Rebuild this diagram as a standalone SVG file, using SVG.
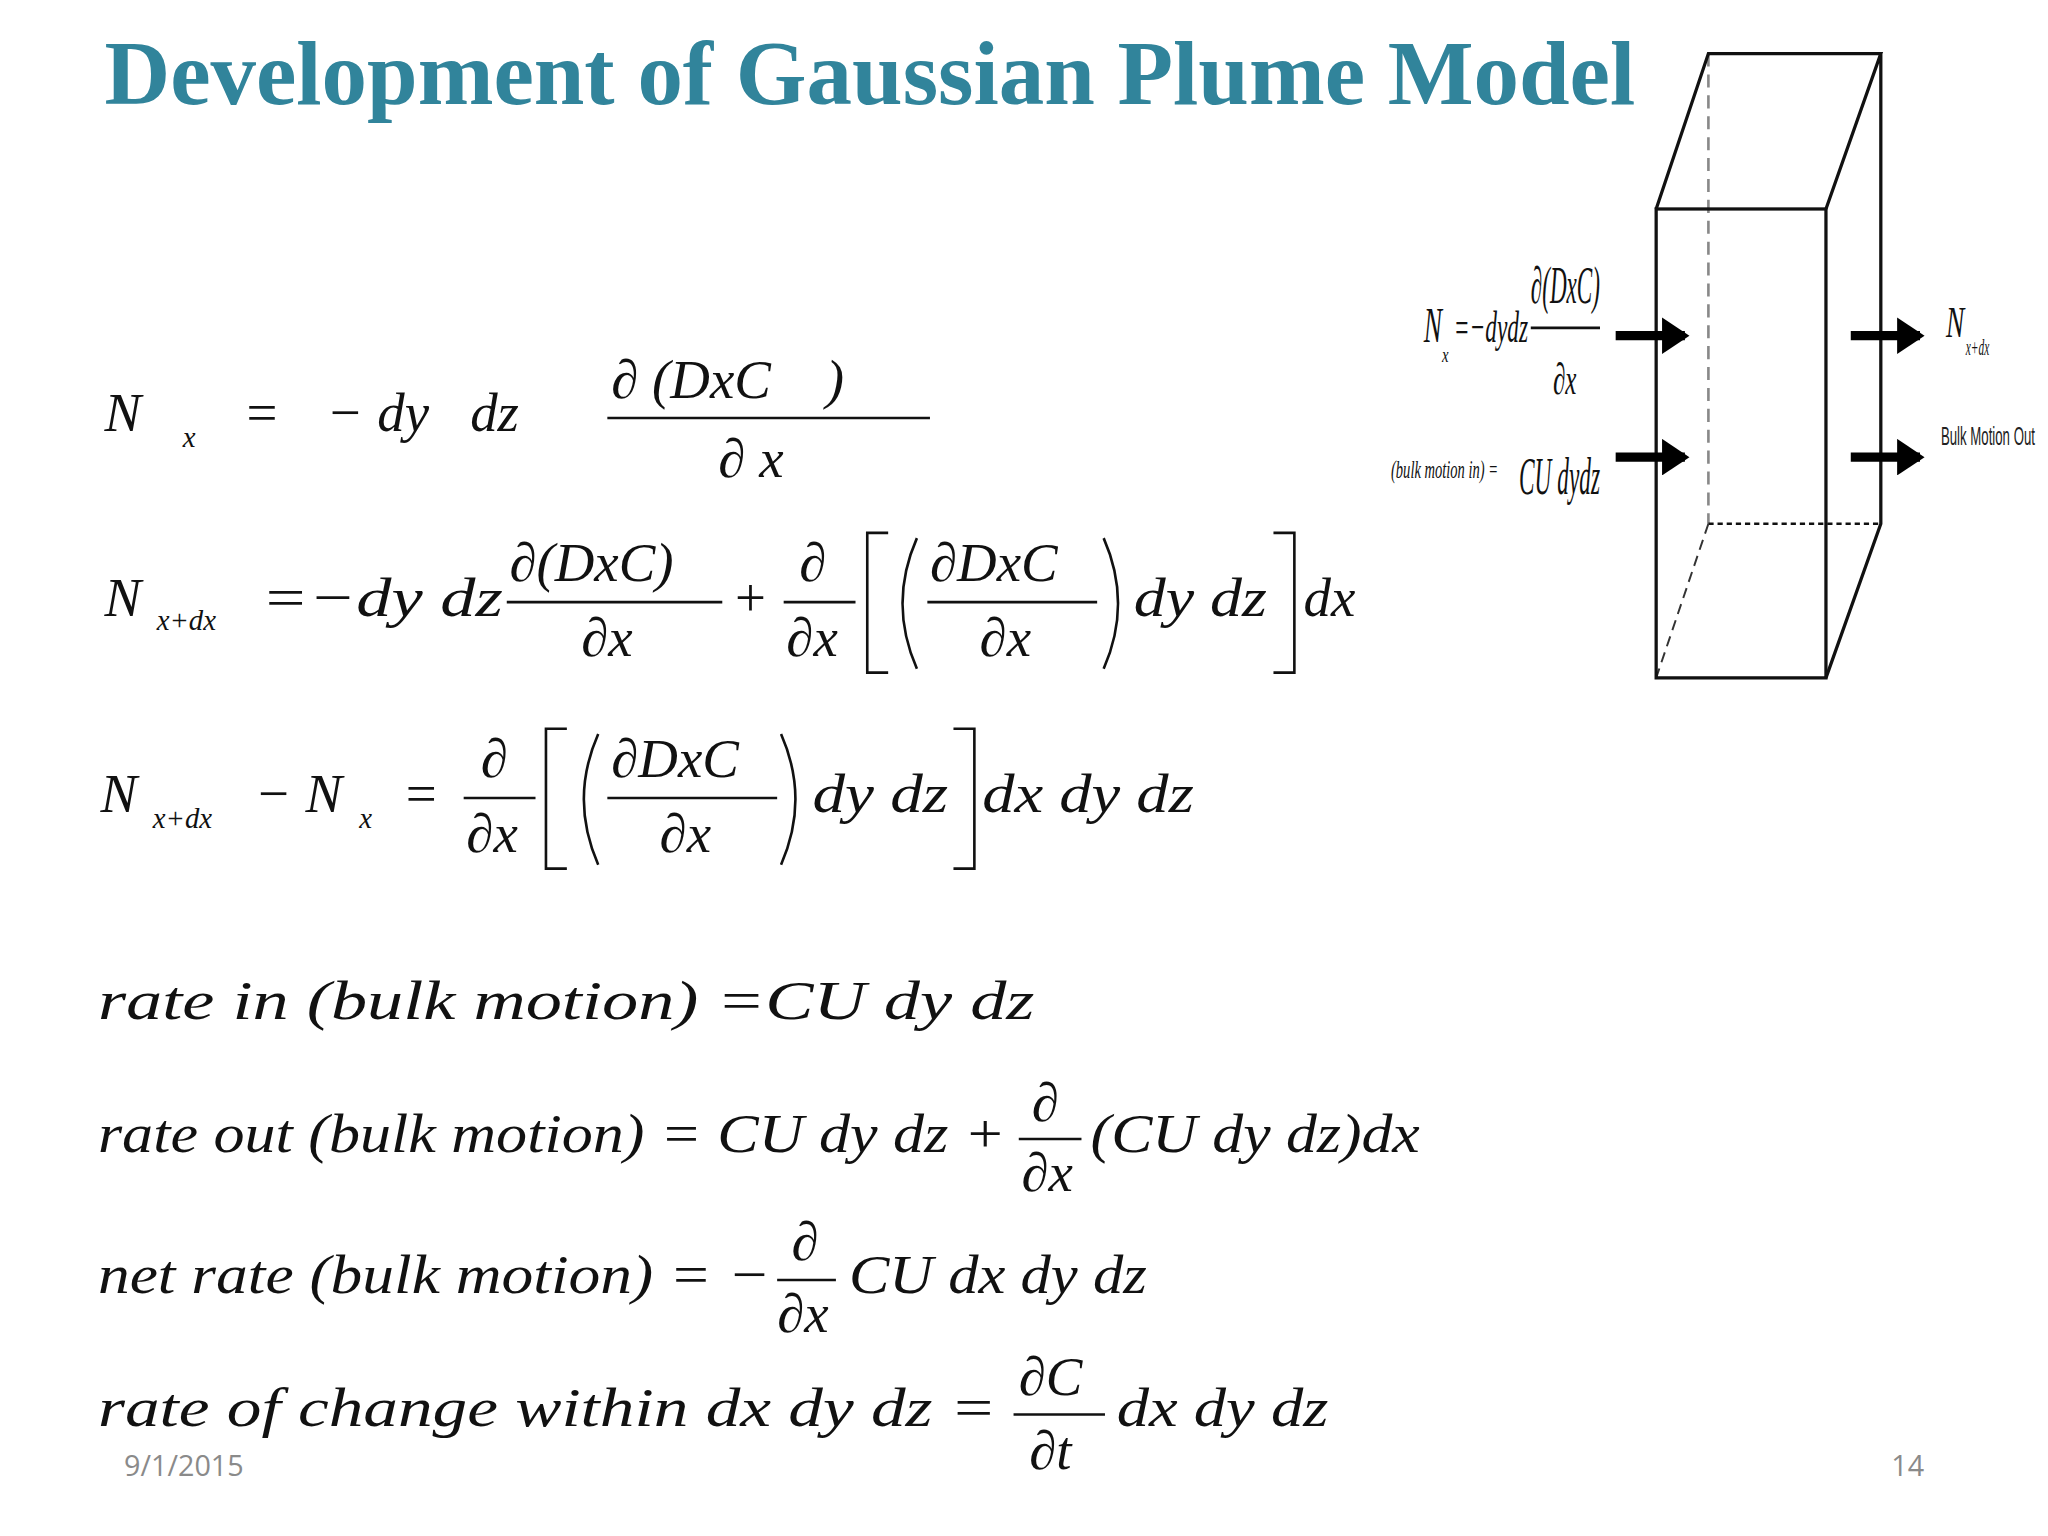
<svg xmlns="http://www.w3.org/2000/svg" width="2048" height="1536" viewBox="0 0 2048 1536">
<style>
.m{font-family:"Liberation Serif","DejaVu Serif",serif;font-style:italic;fill:#111}
.e{font-size:42px}.s{font-size:22px}.r{font-size:42px}
.fl{stroke:#111;stroke-width:2;fill:none}
.bx{stroke:#111;stroke-width:2.5;fill:none}
.ft{font-family:"Open Sans","Liberation Sans",sans-serif;font-size:22px;fill:#8a8a8a}
</style>
<defs><marker id="ah" markerWidth="4" markerHeight="4" refX="2.5" refY="2" orient="auto"><path d="M0,0 L3,2 L0,4 z" fill="#000"/></marker></defs>
<rect width="2048" height="1536" fill="#fff"/>
<g transform="scale(1.30612)">
<text x="80" y="80" font-family="Liberation Serif,serif" font-weight="bold" font-size="70" fill="#31849B" textLength="1172" lengthAdjust="spacingAndGlyphs">Development of Gaussian Plume Model</text>

<g id="eq1">
<text class="m e" x="80" y="330">N</text><text class="m s" x="140" y="342">x</text>
<text class="m e" x="186" y="330">=</text><text class="m e" x="250" y="330" xml:space="preserve">− dy   dz</text>
<text class="m e" x="468" y="305" xml:space="preserve">∂ (DxC    )</text>
<line class="fl" x1="465" y1="320" x2="712" y2="320"/>
<text class="m e" x="550" y="365">∂ x</text>
</g>

<g id="eq2">
<text class="m e" x="80" y="472">N</text><text class="m s" x="120" y="482">x+dx</text>
<text class="m e" x="200" y="472" textLength="185" lengthAdjust="spacingAndGlyphs">=−dy dz</text>
<text class="m e" x="390" y="445">∂(DxC)</text><line class="fl" x1="388" y1="461" x2="553" y2="461"/><text class="m e" x="445" y="502">∂x</text>
<text class="m e" x="560" y="472">+</text>
<text class="m e" x="612" y="445">∂</text><line class="fl" x1="600" y1="461" x2="655" y2="461"/><text class="m e" x="602" y="502">∂x</text>
<path class="fl" d="M680,408 H664 V515 H680"/>
<path class="fl" d="M702,412 Q680,462 702,512"/>
<text class="m e" x="712" y="445">∂DxC</text><line class="fl" x1="710" y1="461" x2="840" y2="461"/><text class="m e" x="750" y="502">∂x</text>
<path class="fl" d="M845,412 Q867,462 845,512"/>
<text class="m e" x="868" y="472" textLength="102" lengthAdjust="spacingAndGlyphs">dy dz</text>
<path class="fl" d="M975,408 H991 V515 H975"/>
<text class="m e" x="998" y="472">dx</text>
</g>

<g id="eq3">
<text class="m e" x="77" y="622">N</text><text class="m s" x="117" y="634">x+dx</text>
<text class="m e" x="195" y="622">− N</text><text class="m s" x="275" y="634">x</text>
<text class="m e" x="308" y="622">=</text>
<text class="m e" x="368" y="595">∂</text><line class="fl" x1="355" y1="611" x2="410" y2="611"/><text class="m e" x="357" y="652">∂x</text>
<path class="fl" d="M434,558 H418 V665 H434"/>
<path class="fl" d="M458,562 Q436,612 458,662"/>
<text class="m e" x="468" y="595">∂DxC</text><line class="fl" x1="465" y1="611" x2="595" y2="611"/><text class="m e" x="505" y="652">∂x</text>
<path class="fl" d="M598,562 Q620,612 598,662"/>
<text class="m e" x="622" y="622" textLength="104" lengthAdjust="spacingAndGlyphs">dy dz</text>
<path class="fl" d="M730,558 H746 V665 H730"/>
<text class="m e" x="752" y="622" textLength="162" lengthAdjust="spacingAndGlyphs">dx dy dz</text>
</g>

<g id="eq4"><text class="m r" x="75" y="780" textLength="717" lengthAdjust="spacingAndGlyphs">rate in (bulk motion) =CU dy dz</text></g>

<g id="eq5">
<text class="m r" x="75" y="882" textLength="695" lengthAdjust="spacingAndGlyphs">rate out (bulk motion) = CU dy dz +</text>
<text class="m e" x="790" y="858">∂</text><line class="fl" x1="780" y1="872" x2="828" y2="872"/><text class="m e" x="782" y="912">∂x</text>
<text class="m r" x="835" y="882" textLength="252" lengthAdjust="spacingAndGlyphs">(CU dy dz)dx</text>
</g>

<g id="eq6">
<text class="m r" x="75" y="990" textLength="515" lengthAdjust="spacingAndGlyphs">net rate (bulk motion) = −</text>
<text class="m e" x="606" y="965">∂</text><line class="fl" x1="595" y1="980" x2="640" y2="980"/><text class="m e" x="595" y="1020">∂x</text>
<text class="m r" x="650" y="990" textLength="228" lengthAdjust="spacingAndGlyphs">CU dx dy dz</text>
</g>

<g id="eq7">
<text class="m r" x="75" y="1092" textLength="688" lengthAdjust="spacingAndGlyphs">rate of change within dx dy dz =</text>
<text class="m e" x="780" y="1068">∂C</text><line class="fl" x1="776" y1="1083" x2="846" y2="1083"/><text class="m e" x="788" y="1125">∂t</text>
<text class="m r" x="855" y="1092" textLength="162" lengthAdjust="spacingAndGlyphs">dx dy dz</text>
</g>

<text class="ft" x="95" y="1130">9/1/2015</text>
<text class="ft" x="1448" y="1130">14</text>

<g id="box">
<line x1="1308" y1="41" x2="1308" y2="401" stroke="#888" stroke-width="2" stroke-dasharray="10,6"/>
<line x1="1308" y1="401" x2="1440" y2="401" stroke="#111" stroke-width="2" stroke-dasharray="4,3"/>
<line x1="1308" y1="401" x2="1268" y2="519" stroke="#333" stroke-width="1.5" stroke-dasharray="8,5"/>
<path class="bx" d="M1268,160 L1308,41 H1440 L1398,160 M1440,41 V401 L1398,519"/>
<rect class="bx" x="1268" y="160" width="130" height="359"/>
</g>
<g id="connectors" stroke="#000" stroke-width="7" marker-end="url(#ah)">
<line x1="1237" y1="257" x2="1290" y2="257"/>
<line x1="1237" y1="350" x2="1290" y2="350"/>
<line x1="1417" y1="257" x2="1470" y2="257"/>
<line x1="1417" y1="350" x2="1470" y2="350"/>
</g>
<g id="labels">
<text class="m" font-size="38" x="1090" y="262" textLength="14" lengthAdjust="spacingAndGlyphs">N</text><text class="m" font-size="16" x="1104" y="277" textLength="5" lengthAdjust="spacingAndGlyphs">x</text>
<text class="m" font-size="34" x="1113" y="262" textLength="57" lengthAdjust="spacingAndGlyphs">=−dydz</text>
<text class="m" font-size="40" x="1172" y="232" textLength="53" lengthAdjust="spacingAndGlyphs">∂(DxC)</text>
<line class="fl" x1="1172" y1="251" x2="1225" y2="251" stroke-width="1.2"/>
<text class="m" font-size="34" x="1189" y="302" textLength="18" lengthAdjust="spacingAndGlyphs">∂x</text>
<text class="m" font-size="20" x="1065" y="366" textLength="82" lengthAdjust="spacingAndGlyphs">(bulk motion in) =</text>
<text class="m" font-size="40" x="1163" y="378" textLength="62" lengthAdjust="spacingAndGlyphs">CU dydz</text>
<text class="m" font-size="34" x="1490" y="258" textLength="14" lengthAdjust="spacingAndGlyphs">N</text><text class="m" font-size="18" x="1505" y="272" textLength="18" lengthAdjust="spacingAndGlyphs">x+dx</text>
<text font-family="Liberation Sans,sans-serif" font-size="20" x="1486" y="341" textLength="72" lengthAdjust="spacingAndGlyphs" fill="#222">Bulk Motion Out</text>
</g>
</g>
</svg>
